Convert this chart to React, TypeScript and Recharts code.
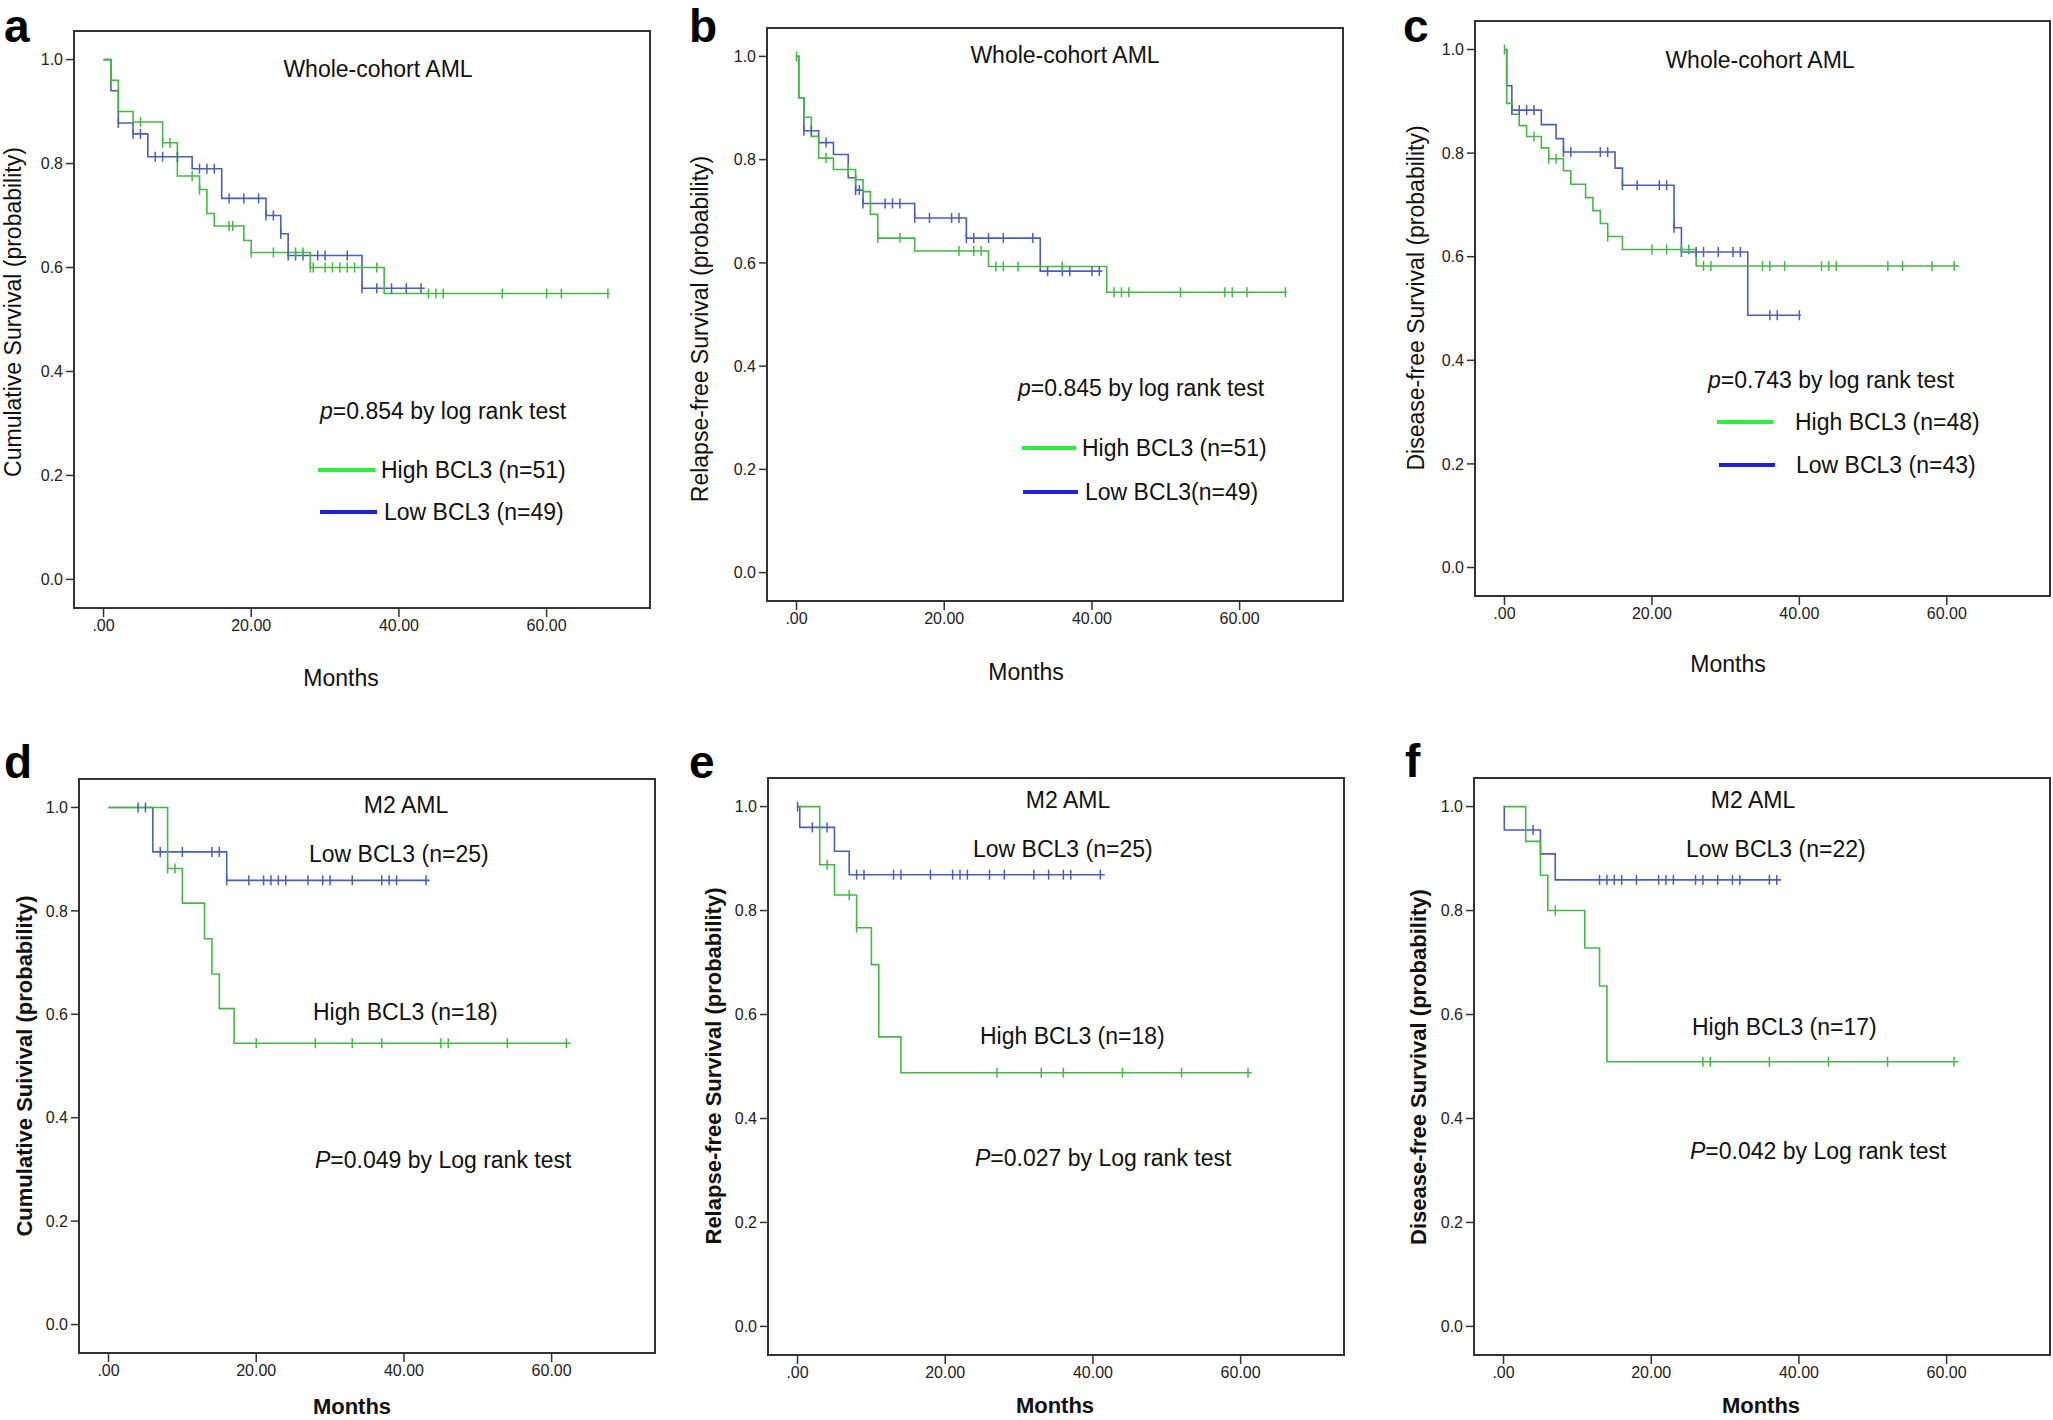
import React from "react";
import { ComposedChart, Line, Scatter, XAxis, YAxis, ReferenceArea } from "recharts";

// ---- data (months, survival probability) ----
const xTicks = [0, 20, 40, 60];
const yTicks = [0, 0.2, 0.4, 0.6, 0.8, 1.0];

// a: whole cohort, cumulative survival
const aHighTime = [0, 1, 2, 4, 8, 10, 13, 14, 15, 19, 20, 28, 38, 68.5];
const aHighSurv = [1, 0.96, 0.9, 0.88, 0.84, 0.776, 0.75, 0.704, 0.68, 0.652, 0.629, 0.6, 0.55, 0.55];
const aHighCens = [1, 5, 8, 9, 12, 13, 17, 17.5, 20, 23, 26, 27, 28, 28.4, 30, 31, 32, 33, 34, 37, 44, 45, 46, 54, 60, 62, 68.3];
const aLowTime = [0, 1, 2, 4, 6, 12, 16, 22, 24, 25, 35, 43.5];
const aLowSurv = [1, 0.94, 0.878, 0.857, 0.813, 0.79, 0.733, 0.7, 0.665, 0.623, 0.56, 0.56];
const aLowCens = [2, 4, 5, 7, 8, 10, 13, 14, 15, 17, 19, 21, 22, 23, 24, 25, 26, 27, 29, 30, 33, 35, 37, 39, 41, 43];

// b: whole cohort, relapse-free survival
const bHighTime = [0, 0.3, 1, 2, 3, 5, 8, 9, 10, 11, 16, 26, 42, 66.4];
const bHighSurv = [1, 0.92, 0.882, 0.845, 0.803, 0.781, 0.761, 0.738, 0.694, 0.648, 0.623, 0.593, 0.543, 0.543];
const bHighCens = [0, 4, 7, 8, 11, 14, 22, 24, 25, 27, 28, 30, 36, 43, 44, 45, 52, 58, 59, 61, 66.2];
const bLowTime = [0, 0.3, 1, 3, 5, 7, 8, 9, 16, 23, 33, 41.4];
const bLowSurv = [1, 0.92, 0.856, 0.833, 0.81, 0.765, 0.741, 0.715, 0.687, 0.648, 0.584, 0.584];
const bLowCens = [1, 2, 4, 8, 8.5, 9, 12, 13, 14, 16, 18, 21, 22, 23, 24, 26, 28, 32, 34, 36, 37, 40, 41];

// c: whole cohort, disease-free survival
const cHighTime = [0, 0.3, 1, 2, 3, 5, 6, 8, 9, 11, 12, 13, 14, 16, 26, 61.7];
const cHighSurv = [1, 0.896, 0.875, 0.853, 0.832, 0.81, 0.789, 0.766, 0.74, 0.714, 0.689, 0.664, 0.639, 0.614, 0.582, 0.582];
const cHighCens = [0, 4, 6, 7, 14, 20, 22, 24, 25, 27, 28, 35, 36, 38, 43, 44, 45, 52, 54, 58, 61];
const cLowTime = [0, 0.3, 1, 5, 7, 8, 15, 16, 23, 24, 33, 40.2];
const cLowSurv = [1, 0.93, 0.883, 0.855, 0.828, 0.802, 0.771, 0.738, 0.656, 0.609, 0.487, 0.487];
const cLowCens = [1, 2, 3, 4, 8, 9, 13, 14, 16, 18, 21, 22, 23, 24, 26, 27, 29, 31, 32, 36, 37, 40];

// d: M2 AML, cumulative survival
const dHighTime = [0, 8, 10, 13, 14, 15, 17, 62.6];
const dHighSurv = [1, 0.882, 0.815, 0.746, 0.678, 0.611, 0.544, 0.544];
const dHighCens = [8, 9, 20, 28, 33, 37, 45, 46, 54, 62];
const dLowTime = [0, 6, 16, 43.5];
const dLowSurv = [1, 0.914, 0.859, 0.859];
const dLowCens = [4, 5, 7, 10, 14, 15, 16, 19, 21, 22, 23, 24, 27, 29, 30, 33, 37, 38, 39, 43];

// e: M2 AML, relapse-free survival
const eHighTime = [0, 3, 5, 8, 10, 11, 14, 61.5];
const eHighSurv = [1, 0.888, 0.83, 0.767, 0.696, 0.557, 0.488, 0.488];
const eHighCens = [4, 7, 8, 27, 33, 36, 44, 52, 61];
const eLowTime = [0, 0.3, 5, 7, 41.6];
const eLowSurv = [1, 0.96, 0.914, 0.869, 0.869];
const eLowCens = [0, 2, 4, 8, 9, 13, 14, 18, 21, 22, 23, 26, 28, 32, 34, 36, 37, 41];

// f: M2 AML, disease-free survival
const fHighTime = [0, 3, 5, 6, 11, 13, 14, 61.6];
const fHighSurv = [1, 0.933, 0.868, 0.8, 0.728, 0.655, 0.509, 0.509];
const fHighCens = [7, 27, 28, 36, 44, 52, 61];
const fLowTime = [0, 0.1, 5, 7, 37.6];
const fLowSurv = [1, 0.955, 0.909, 0.859, 0.859];
const fLowCens = [4, 13, 14, 15, 16, 18, 21, 22, 23, 26, 27, 29, 31, 32, 36, 37];

// ---- styling / layout ----
const FONT = "'Liberation Sans', Arial, sans-serif";
const GREEN = "#47b847";
const BLUE = "#4b5fb5";
const LEG_GREEN = "#2eef3e";
const LEG_BLUE = "#1f1fe0";
const X_DOMAIN: [number, number] = [-4, 74];
const Y_DOMAIN: [number, number] = [-0.055, 1.055];

const toSteps = (time: number[], surv: number[]) => time.map((t, i) => ({ t, s: surv[i] }));

function survAt(time: number[], surv: number[], t: number) {
  let s = surv[0];
  for (let i = 0; i < time.length; i++) if (time[i] <= t) s = surv[i];
  return s;
}

const toCens = (time: number[], surv: number[], cens: number[]) =>
  cens.map((t) => ({ t, s: survAt(time, surv, t) }));

const curve = (time: number[], surv: number[], cens: number[], color: string) => ({
  steps: toSteps(time, surv),
  marks: toCens(time, surv, cens),
  color,
});

const panels = [
  {
    box: { left: 74, top: 31, width: 576, height: 577 },
    low: curve(aLowTime, aLowSurv, aLowCens, BLUE),
    high: curve(aHighTime, aHighSurv, aHighCens, GREEN),
  },
  {
    box: { left: 767, top: 28, width: 576, height: 573 },
    low: curve(bLowTime, bLowSurv, bLowCens, BLUE),
    high: curve(bHighTime, bHighSurv, bHighCens, GREEN),
  },
  {
    box: { left: 1475, top: 21, width: 575, height: 575 },
    low: curve(cLowTime, cLowSurv, cLowCens, BLUE),
    high: curve(cHighTime, cHighSurv, cHighCens, GREEN),
  },
  {
    box: { left: 79, top: 779, width: 576, height: 574 },
    low: curve(dLowTime, dLowSurv, dLowCens, BLUE),
    high: curve(dHighTime, dHighSurv, dHighCens, GREEN),
  },
  {
    box: { left: 768, top: 778, width: 576, height: 577 },
    low: curve(eLowTime, eLowSurv, eLowCens, BLUE),
    high: curve(eHighTime, eHighSurv, eHighCens, GREEN),
  },
  {
    box: { left: 1474, top: 778, width: 576, height: 577 },
    low: curve(fLowTime, fLowSurv, fLowCens, BLUE),
    high: curve(fHighTime, fHighSurv, fHighCens, GREEN),
  },
];

const fmtX = (v: number) => (v === 0 ? ".00" : v.toFixed(2));
const fmtY = (v: number) => v.toFixed(1);

function CensorMark(props: any) {
  const { cx, cy, fill } = props;
  if (cx == null || cy == null) return null;
  return <line x1={cx} x2={cx} y1={cy - 5} y2={cy + 5} stroke={fill} strokeWidth={1.5} />;
}

function KMPanel({ box, low, high }: any) {
  const YW = 80;
  const MT = 12;
  const MR = 12;
  const XH = 46;
  const tickStyle = { fontSize: 16, fill: "#222", fontFamily: FONT };
  return (
    <div style={{ position: "absolute", left: box.left - YW, top: box.top - MT }}>
      <ComposedChart
        width={YW + box.width + MR}
        height={MT + box.height + XH}
        margin={{ top: MT, right: MR, left: 0, bottom: 0 }}
      >
        <XAxis
          type="number"
          dataKey="t"
          domain={X_DOMAIN}
          ticks={xTicks}
          tickFormatter={fmtX}
          allowDataOverflow
          axisLine={false}
          tickSize={9}
          tickMargin={3}
          tickLine={{ stroke: "#333", strokeWidth: 1.5 }}
          tick={tickStyle}
          height={XH}
          interval={0}
        />
        <YAxis
          type="number"
          dataKey="s"
          domain={Y_DOMAIN}
          ticks={yTicks}
          tickFormatter={fmtY}
          allowDataOverflow
          axisLine={false}
          tickSize={8}
          tickMargin={3}
          tickLine={{ stroke: "#333", strokeWidth: 1.5 }}
          tick={tickStyle}
          width={YW}
          interval={0}
        />
        <ReferenceArea
          x1={X_DOMAIN[0]}
          x2={X_DOMAIN[1]}
          y1={Y_DOMAIN[0]}
          y2={Y_DOMAIN[1]}
          fill="none"
          fillOpacity={0}
          stroke="#333"
          strokeWidth={2}
          ifOverflow="visible"
        />
        <Line data={low.steps} dataKey="s" type="stepAfter" stroke={low.color} strokeWidth={1.6} dot={false} isAnimationActive={false} />
        <Line data={high.steps} dataKey="s" type="stepAfter" stroke={high.color} strokeWidth={1.6} dot={false} isAnimationActive={false} />
        <Scatter data={low.marks} dataKey="s" fill={low.color} shape={<CensorMark />} isAnimationActive={false} />
        <Scatter data={high.marks} dataKey="s" fill={high.color} shape={<CensorMark />} isAnimationActive={false} />
      </ComposedChart>
    </div>
  );
}

const T = 23;

function PText({ x, y, letter, rest }: { x: number; y: number; letter: string; rest: string }) {
  return (
    <text x={x} y={y} fontSize={T}>
      <tspan fontStyle="italic">{letter}</tspan>
      {rest}
    </text>
  );
}

function LegendRow({ x1, x2, ly, tx, ty, color, label }: any) {
  return (
    <g>
      <line x1={x1} x2={x2} y1={ly} y2={ly} stroke={color} strokeWidth={4} />
      <text x={tx} y={ty} fontSize={T}>{label}</text>
    </g>
  );
}

function YLabel({ x, y, label, bold }: any) {
  return (
    <text transform={`translate(${x},${y}) rotate(-90)`} textAnchor="middle" fontSize={bold ? 22 : T} fontWeight={bold ? "bold" : "normal"}>
      {label}
    </text>
  );
}

function Overlay() {
  return (
    <svg
      width={2053}
      height={1420}
      style={{ position: "absolute", left: 0, top: 0, pointerEvents: "none" }}
      fontFamily={FONT}
      fill="#111"
    >
      {/* panel letters */}
      <g fontSize={46} fontWeight="bold" fill="#000">
        <text x={4} y={42}>a</text>
        <text x={689} y={42}>b</text>
        <text x={1403} y={42}>c</text>
        <text x={4} y={778}>d</text>
        <text x={689} y={778}>e</text>
        <text x={1405} y={777}>f</text>
      </g>

      {/* a */}
      <text x={378} y={77} fontSize={T} textAnchor="middle">Whole-cohort AML</text>
      <PText x={320} y={419} letter="p" rest="=0.854 by log rank test" />
      <LegendRow x1={318} x2={375} ly={470} tx={381} ty={478} color={LEG_GREEN} label="High BCL3 (n=51)" />
      <LegendRow x1={320} x2={377} ly={512} tx={384} ty={520} color={LEG_BLUE} label="Low BCL3 (n=49)" />
      <text x={341} y={686} fontSize={T} textAnchor="middle">Months</text>
      <YLabel x={21} y={312} label="Cumulative Survival (probability)" />

      {/* b */}
      <text x={1065} y={63} fontSize={T} textAnchor="middle">Whole-cohort AML</text>
      <PText x={1018} y={396} letter="p" rest="=0.845 by log rank test" />
      <LegendRow x1={1022} x2={1076} ly={448} tx={1082} ty={456} color={LEG_GREEN} label="High BCL3 (n=51)" />
      <LegendRow x1={1023} x2={1078} ly={492} tx={1085} ty={500} color={LEG_BLUE} label="Low BCL3(n=49)" />
      <text x={1026} y={680} fontSize={T} textAnchor="middle">Months</text>
      <YLabel x={708} y={329} label="Relapse-free Survival (probability)" />

      {/* c */}
      <text x={1760} y={68} fontSize={T} textAnchor="middle">Whole-cohort AML</text>
      <PText x={1708} y={388} letter="p" rest="=0.743 by log rank test" />
      <LegendRow x1={1717} x2={1773} ly={422} tx={1795} ty={430} color={LEG_GREEN} label="High BCL3 (n=48)" />
      <LegendRow x1={1719} x2={1775} ly={465} tx={1796} ty={473} color={LEG_BLUE} label="Low BCL3 (n=43)" />
      <text x={1728} y={672} fontSize={T} textAnchor="middle">Months</text>
      <YLabel x={1424} y={298} label="Disease-free Survival (probability)" />

      {/* d */}
      <text x={406} y={813} fontSize={T} textAnchor="middle">M2 AML</text>
      <text x={309} y={862} fontSize={T}>Low BCL3 (n=25)</text>
      <text x={313} y={1020} fontSize={T}>High BCL3 (n=18)</text>
      <PText x={315} y={1168} letter="P" rest="=0.049 by Log rank test" />
      <text x={352} y={1414} fontSize={22} fontWeight="bold" textAnchor="middle">Months</text>
      <YLabel x={32} y={1066} bold label="Cumulative Suivival (probability)" />

      {/* e */}
      <text x={1068} y={808} fontSize={T} textAnchor="middle">M2 AML</text>
      <text x={973} y={857} fontSize={T}>Low BCL3 (n=25)</text>
      <text x={980} y={1044} fontSize={T}>High BCL3 (n=18)</text>
      <PText x={975} y={1166} letter="P" rest="=0.027 by Log rank test" />
      <text x={1055} y={1413} fontSize={22} fontWeight="bold" textAnchor="middle">Months</text>
      <YLabel x={721} y={1066} bold label="Relapse-free Survival (probability)" />

      {/* f */}
      <text x={1753} y={808} fontSize={T} textAnchor="middle">M2 AML</text>
      <text x={1686} y={857} fontSize={T}>Low BCL3 (n=22)</text>
      <text x={1692} y={1035} fontSize={T}>High BCL3 (n=17)</text>
      <PText x={1690} y={1159} letter="P" rest="=0.042 by Log rank test" />
      <text x={1761} y={1413} fontSize={22} fontWeight="bold" textAnchor="middle">Months</text>
      <YLabel x={1426} y={1067} bold label="Disease-free Survival (probability)" />
    </svg>
  );
}

export default function App() {
  return (
    <div
      style={{
        position: "absolute",
        left: 0,
        top: 0,
        width: 2053,
        height: 1420,
        background: "#fff",
        overflow: "hidden",
        fontFamily: FONT,
      }}
    >
      {panels.map((p, i) => (
        <KMPanel key={i} box={p.box} low={p.low} high={p.high} />
      ))}
      <Overlay />
    </div>
  );
}
